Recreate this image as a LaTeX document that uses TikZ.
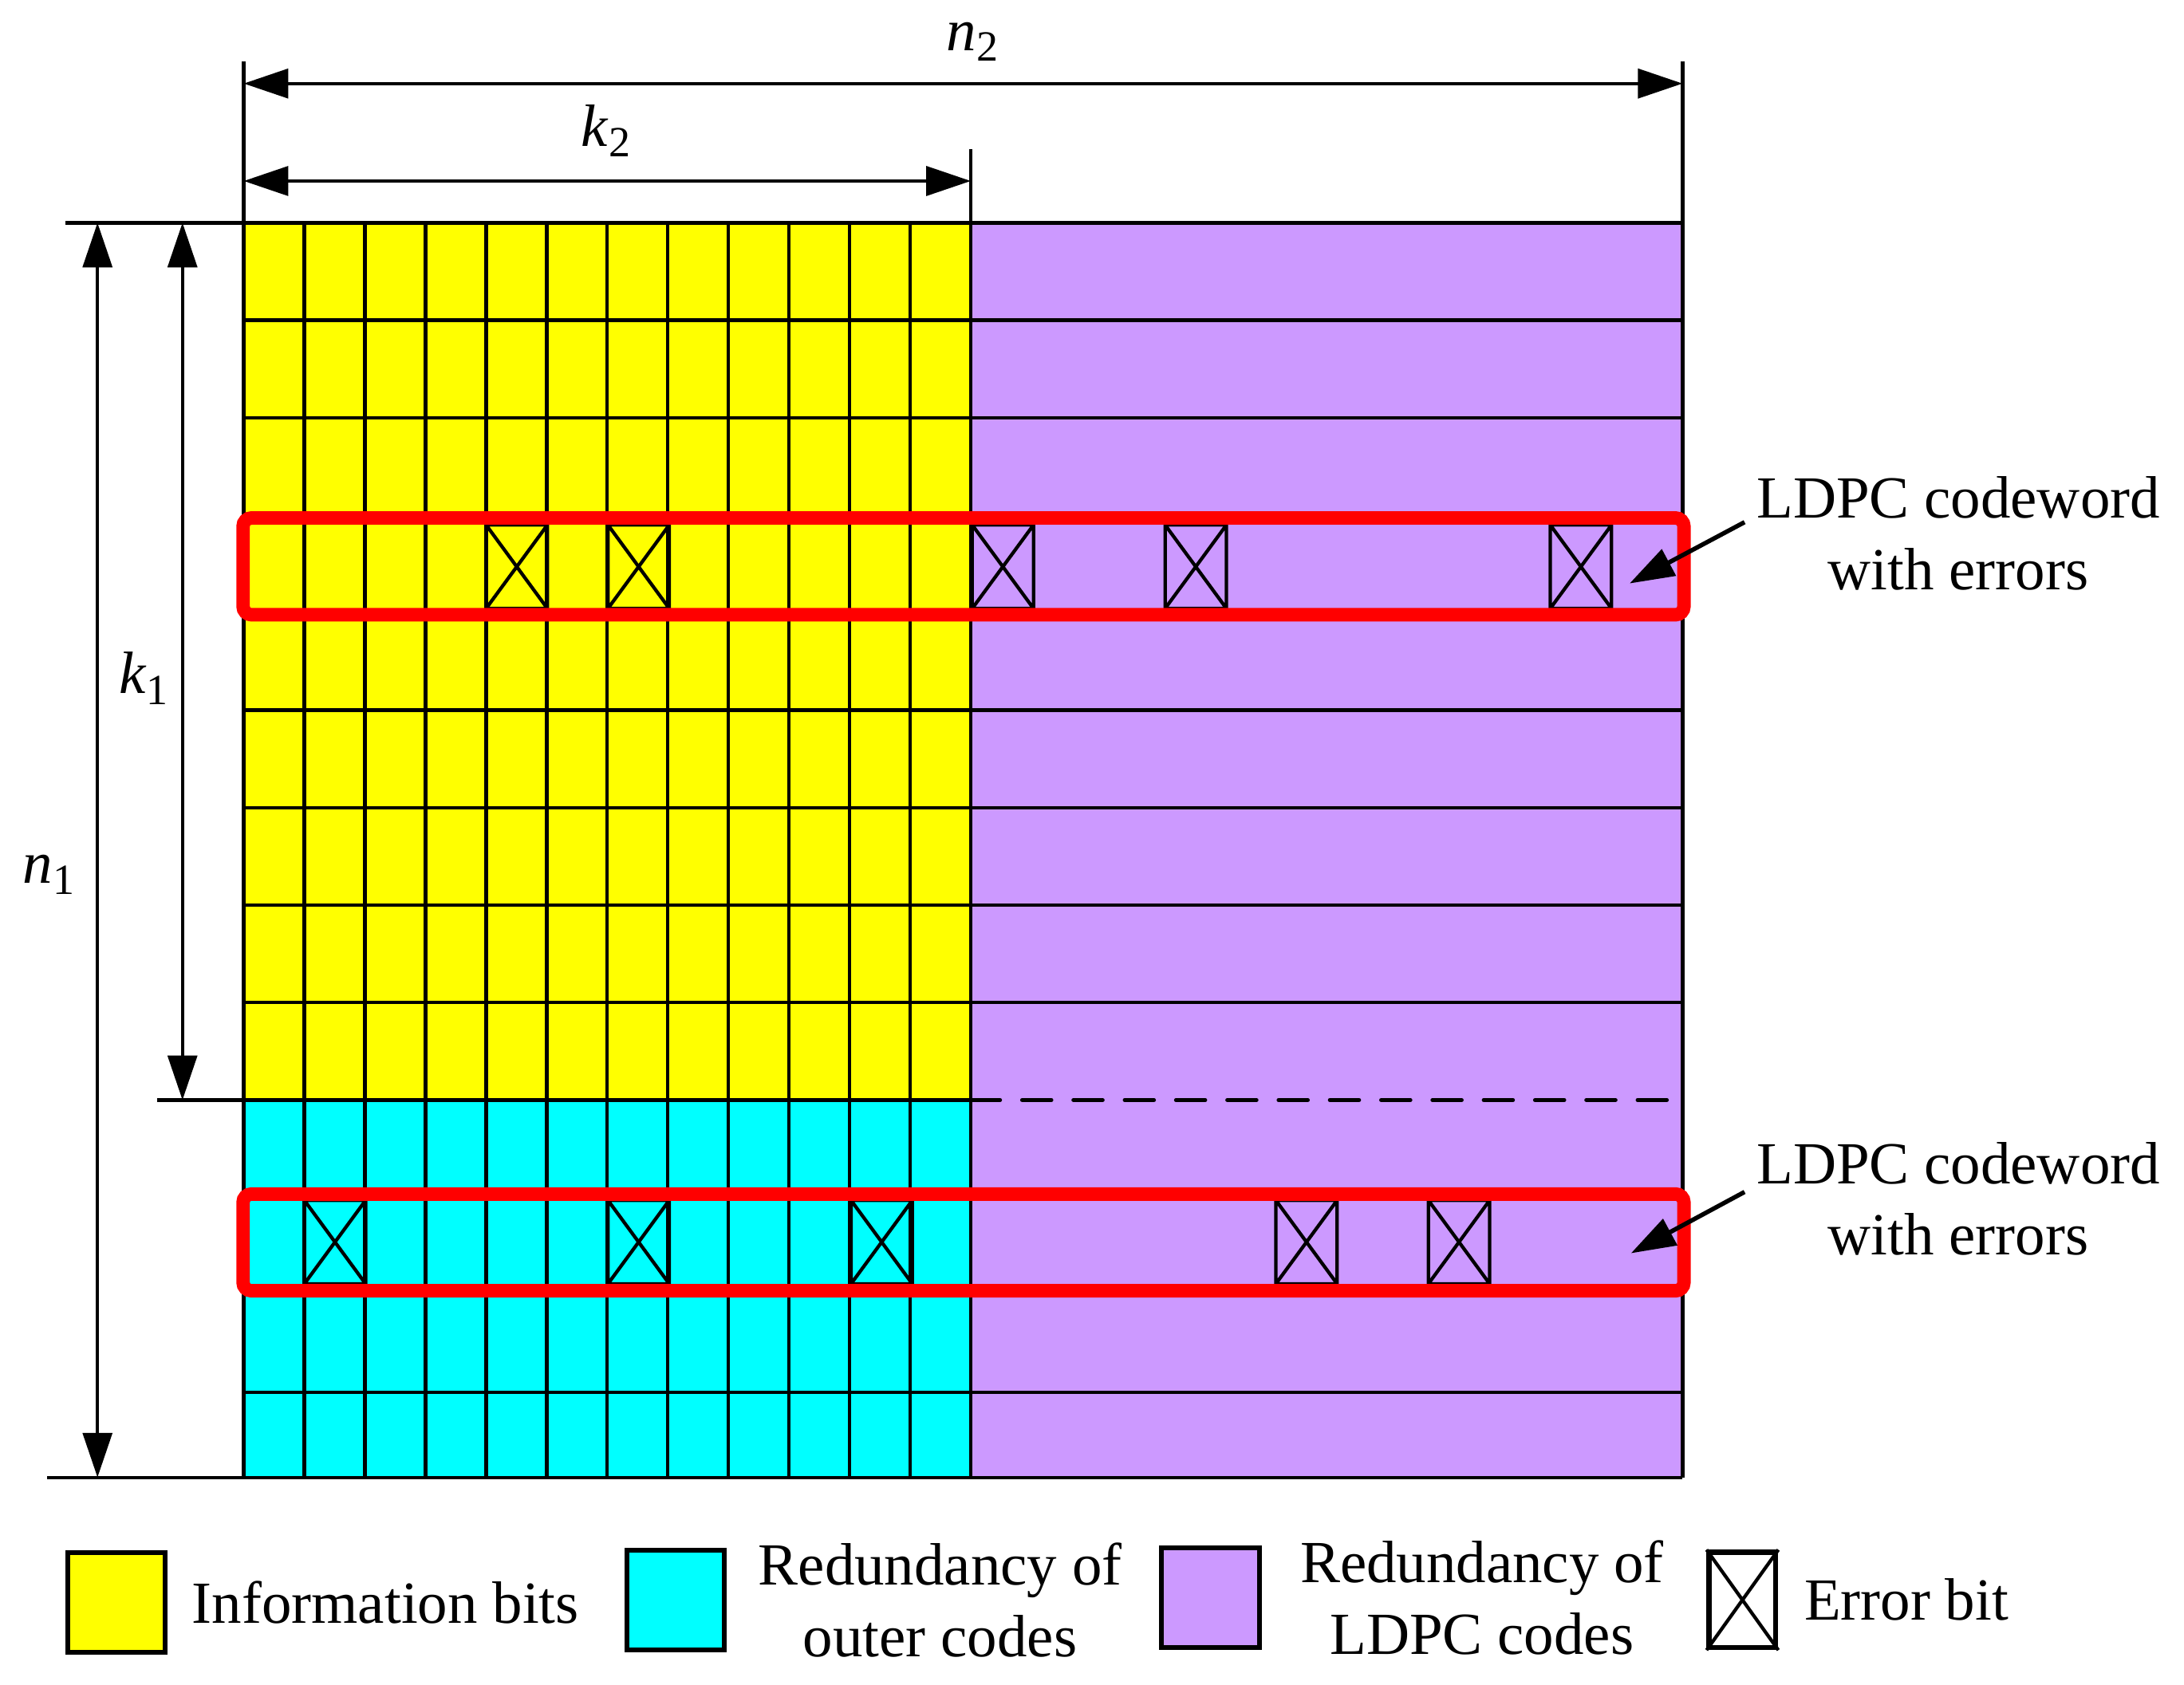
\documentclass[tikz,border=0pt]{standalone}
\usepackage{fontspec}
\setmainfont{Liberation Serif}
\usetikzlibrary{arrows.meta,positioning}
\definecolor{infoyel}{RGB}{255,255,0}
\definecolor{outercyan}{RGB}{0,255,255}
\definecolor{ldpcpurp}{RGB}{204,153,255}
\definecolor{frred}{RGB}{255,0,0}
\newcommand\subidx[1]{\raisebox{-0.4ex}{\fontsize{8.8}{10}\selectfont #1}}
\tikzset{
  lbl/.style={font=\fontsize{12.2}{14.6}\selectfont,inner sep=0pt},
  gridln/.style={line width=0.7pt},
  extln/.style={line width=0.6pt},
  dashln/.style={line width=0.8pt,dash pattern=on 0.21cm off 0.158cm,line cap=round},
  dim/.style={{Triangle[length=0.32cm,width=0.21cm]}-{Triangle[length=0.32cm,width=0.21cm]},line width=0.7pt},
  ptr/.style={-{Triangle[length=0.32cm,width=0.21cm]},line width=0.9pt},
  errbox/.style={line width=0.7pt},
  codeframe/.style={draw=frred,line width=2.75pt,rounded corners=0.06cm},
  legbox/.style={draw,line width=1pt,minimum width=0.70cm,minimum height=0.715cm,inner sep=0pt},
}

\begin{document}
\begin{tikzpicture}[x=0.01cm,y=-0.01cm]
  \useasboundingbox (0,0) rectangle (1568,1210);

  % the three blocks of the product code
  \fill[infoyel] (175,160) rectangle (697,790);
  \fill[outercyan] (175,790) rectangle (697,1061);
  \fill[ldpcpurp] (697,160) rectangle (1208,1061);

  % columns and rows
  \foreach \i in {1,...,11}
    \draw[gridln] ({175+43.5*\i},160) -- ({175+43.5*\i},1061);
  \foreach \y in {230,300,370,440,510,580,650,720,860,930,1000}
    \draw[gridln] (175,\y) -- (1208,\y);
  \draw[gridln] (113,790) -- (697,790);
  \draw[dashln] (697,790) -- (1208,790);
  \draw[gridln] (175,44) -- (175,1061);
  \draw[gridln] (697,107) -- (697,1061);
  \draw[gridln] (1208,44) -- (1208,1061);
  \draw[gridln] (47,160) -- (1208,160);
  \draw[gridln] (34,1061) -- (1208,1061);

  % dimensions
  \coordinate (n2a) at (175,60);
  \coordinate (n2b) at (1208,60);
  \coordinate (k2a) at (175,130);
  \coordinate (k2b) at (697,130);
  \coordinate (n1a) at (70,160);
  \coordinate (n1b) at (70,1061);
  \coordinate (k1a) at (131,160);
  \coordinate (k1b) at (131,790);
  \draw[dim] (n2a) -- (n2b);
  \draw[dim] (k2a) -- (k2b);
  \draw[dim] (n1a) -- (n1b);
  \draw[dim] (k1a) -- (k1b);
  \node[lbl] (n2lab) at (698,30) {\textit{n}\subidx{2}};
  \node[lbl] (k2lab) at (435,94) {\textit{k}\subidx{2}};
  \node[lbl] (k1lab) at (103,487) {\textit{k}\subidx{1}};
  \node[lbl] (n1lab) at (35,628) {\textit{n}\subidx{1}};

  % error bits
  \foreach \x in {349,436.5,698,836.5,1113}
    \draw[errbox] (\x,377) rectangle ++(44,60) (\x,377) -- ++(44,60) ({\x+44},377) -- ++(-44,60);
  \foreach \x in {218.5,436.5,611,916,1025.5}
    \draw[errbox] (\x,862) rectangle ++(44,60) (\x,862) -- ++(44,60) ({\x+44},862) -- ++(-44,60);

  % LDPC codewords
  \draw[codeframe] (174.5,372) rectangle (1209,441.5);
  \draw[codeframe] (174.5,857.5) rectangle (1209,927);

  \node[lbl,align=center] (cw1) at (1406,383) {LDPC codeword\\with errors};
  \node[lbl,align=center] (cw2) at (1406,861) {LDPC codeword\\with errors};
  \coordinate (cw1tip) at (1170,419);
  \coordinate (cw2tip) at (1171,900);
  \draw[ptr] ([xshift=-0.08cm,yshift=0.08cm]cw1.west) -- (cw1tip);
  \draw[ptr] ([xshift=-0.08cm,yshift=0.05cm]cw2.west) -- (cw2tip);

  % legend
  \node[legbox,fill=infoyel] (lgInfo) at (83.5,1151) {};
  \node[lbl,right=0.17cm of lgInfo] (lgInfoTxt) {Information bits};
  \node[legbox,fill=outercyan] (lgOuter) at (485,1149) {};
  \node[lbl,align=center,right=0.22cm of lgOuter] (lgOuterTxt) {Redundancy of\\outer codes};
  \node[legbox,fill=ldpcpurp] (lgLdpc) at (869,1147.5) {};
  \node[lbl,align=center,right=0.27cm of lgLdpc] (lgLdpcTxt) {Redundancy of\\LDPC codes};
  \node[legbox,minimum width=0.48cm,minimum height=0.685cm] (lgErr) at (1251,1149) {};
  \draw[errbox] (lgErr.north west) -- (lgErr.south east) (lgErr.north east) -- (lgErr.south west);
  \node[lbl,right=0.18cm of lgErr] (lgErrTxt) {Error bit};
\end{tikzpicture}
\end{document}
